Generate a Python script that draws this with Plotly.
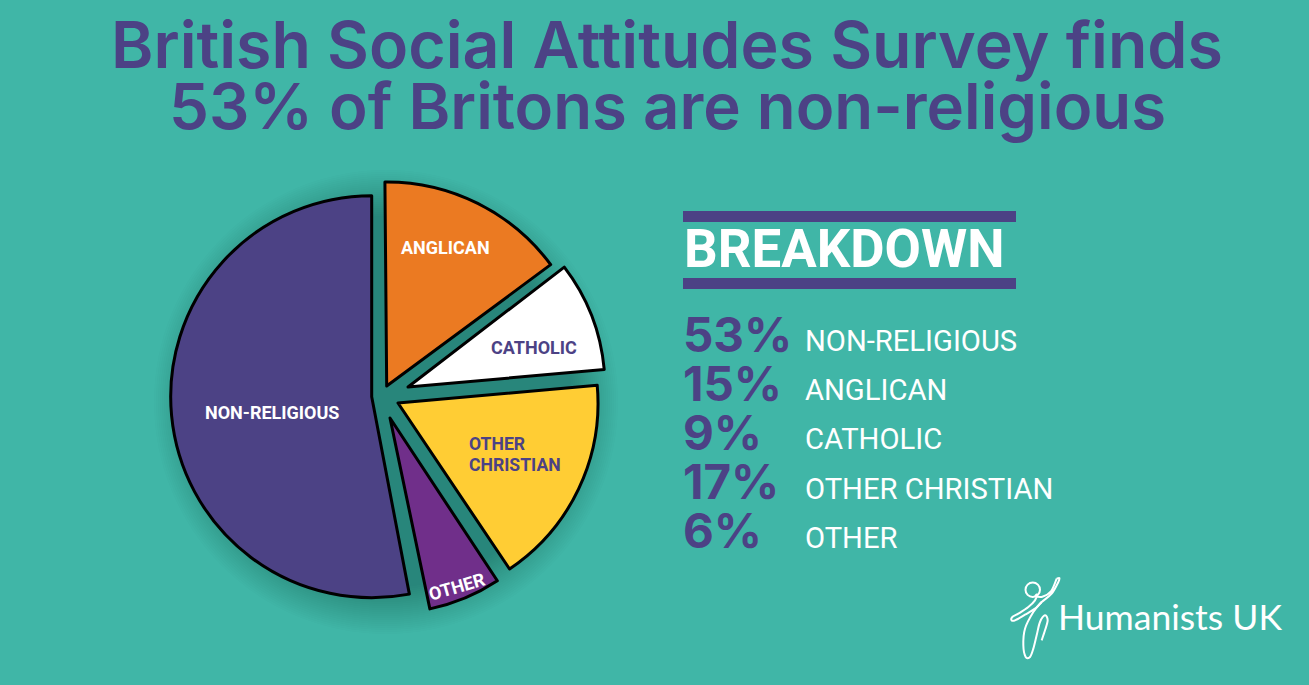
import plotly.graph_objects as go

# Survey shares, in the order the slices run clockwise from twelve o'clock
categories = ["ANGLICAN", "CATHOLIC", "OTHER CHRISTIAN", "OTHER", "NON-RELIGIOUS"]
shares = [15, 9, 17, 6, 53]
colors = ["#EB7A22", "#FFFFFF", "#FFCD34", "#702F8A", "#4C4285"]

# Breakdown list, top to bottom
list_names = ["NON-RELIGIOUS", "ANGLICAN", "CATHOLIC", "OTHER CHRISTIAN", "OTHER"]
list_shares = [53, 15, 9, 17, 6]

W, H = 1309, 685
BG = "#40B6A7"
PURPLE = "#4C4285"

# Each wedge has its own centre, radius and small turn so the pieces sit apart irregularly
wedge_geometry = {
    "ANGLICAN": (386.7, 386.0, 204, 0.0),
    "CATHOLIC": (408.0, 387.0, 197, -1.0),
    "OTHER CHRISTIAN": (398.0, 403.0, 200, -1.0),
    "OTHER": (390.0, 418.0, 195, -0.5),
    "NON-RELIGIOUS": (371.7, 396.7, 201, 0.5),
}
START_ANGLE = -0.5


def px(x):
    return x / W


def py(y):
    return 1 - y / H


fig = go.Figure()

total = sum(shares)
running = 0
for name, share, color in zip(categories, shares, colors):
    cx, cy, r, turn = wedge_geometry[name]
    fig.add_trace(go.Pie(
        labels=[name, "rest"],
        values=[share, total - share],
        sort=False,
        direction="clockwise",
        rotation=START_ANGLE + turn + running / total * 360,
        domain=dict(x=[px(cx - r), px(cx + r)], y=[py(cy + r), py(cy - r)]),
        marker=dict(colors=[color, "rgba(0,0,0,0)"],
                    line=dict(color=["#000000", "rgba(0,0,0,0)"], width=[3, 0])),
        textinfo="none",
        hoverinfo="label+percent",
        showlegend=False,
    ))
    running += share

shapes = []

# Soft shadow under the pie, built from stacked faint discs
for i in range(24):
    rad = 232 - i * 2
    shapes.append(dict(
        type="circle", xref="paper", yref="paper", layer="below",
        x0=px(386 - rad), x1=px(386 + rad), y0=py(402 + rad), y1=py(402 - rad),
        fillcolor="rgba(20,70,65,0.015)", line=dict(width=0),
    ))

# Rules above and below the BREAKDOWN heading
for y0, y1 in [(211, 222), (278, 289)]:
    shapes.append(dict(
        type="rect", xref="paper", yref="paper",
        x0=px(683), x1=px(1016), y0=py(y1), y1=py(y0),
        fillcolor=PURPLE, line=dict(width=0),
    ))


def smooth_path(points):
    """Catmull-Rom curve through the given pixel points, as an SVG path in paper coordinates."""
    pts = [points[0]] + points + [points[-1]]
    out = [f"M {px(points[0][0]):.5f},{py(points[0][1]):.5f}"]
    for i in range(1, len(pts) - 2):
        p0, p1, p2, p3 = pts[i - 1], pts[i], pts[i + 1], pts[i + 2]
        c1 = (p1[0] + (p2[0] - p0[0]) / 6, p1[1] + (p2[1] - p0[1]) / 6)
        c2 = (p2[0] - (p3[0] - p1[0]) / 6, p2[1] - (p3[1] - p1[1]) / 6)
        out.append(
            f"C {px(c1[0]):.5f},{py(c1[1]):.5f} {px(c2[0]):.5f},{py(c2[1]):.5f} "
            f"{px(p2[0]):.5f},{py(p2[1]):.5f}"
        )
    return " ".join(out)


# Logo figure: a ring for the head, a looping stroke for the arms, another for body and legs
logo_arms = [(155, 20), (138, 58), (112, 74), (92, 72), (96, 68), (90, 85), (70, 105), (40, 125),
             (22, 135), (20, 145), (30, 145), (60, 128), (90, 110), (110, 90), (140, 65),
             (160, 30), (163, 18), (155, 20)]
logo_body = [(110, 90), (85, 120), (60, 170), (55, 220), (62, 255), (75, 255), (85, 230), (95, 190),
             (105, 150), (120, 130), (128, 145), (120, 175), (110, 205)]
for stroke in (logo_arms, logo_body):
    pixels = [(1005 + x / 3, 572 + y / 3) for x, y in stroke]
    shapes.append(dict(
        type="path", xref="paper", yref="paper", path=smooth_path(pixels),
        line=dict(color="#FFFFFF", width=2),
    ))
shapes.append(dict(
    type="circle", xref="paper", yref="paper",
    x0=px(1025.5), x1=px(1040), y0=py(597), y1=py(582.5),
    line=dict(color="#FFFFFF", width=2),
))


def note(text, x, y, size, color, family="Roboto", weight=400, anchor="left", angle=0):
    return dict(
        text=text, x=px(x), y=py(y), xref="paper", yref="paper", showarrow=False,
        xanchor=anchor, yanchor="middle", textangle=angle,
        font=dict(family=family, size=size, color=color, weight=weight),
    )


annotations = [
    note("British Social Attitudes Survey finds", 667, 45, 64.4, PURPLE, "Inter", 600, "center"),
    note("53% of Britons are non-religious", 667, 105, 63.5, PURPLE, "Inter", 600, "center"),
    note("BREAKDOWN", 682, 249, 52.8, "#FFFFFF", "Roboto", 700),
    note("Humanists UK", 1056, 616, 35.5, "#FFFFFF", "Lato", 400),
    # Labels on the wedges
    note("ANGLICAN", 445, 247, 18, "#FFFFFF", "Roboto", 700, "center"),
    note("CATHOLIC", 534, 347, 18, PURPLE, "Roboto", 700, "center"),
    note("OTHER", 467, 444, 17.6, PURPLE, "Roboto", 700),
    note("CHRISTIAN", 467, 465, 17.6, PURPLE, "Roboto", 700),
    note("OTHER", 457, 586, 18, "#FFFFFF", "Roboto", 700, "center", -16),
    note("NON-RELIGIOUS", 272, 413, 18, "#FFFFFF", "Roboto", 700, "center"),
]

for i, (name, share) in enumerate(zip(list_names, list_shares)):
    y_big = 334 + i * 49.2
    annotations.append(note(f"{share}%", 681, y_big, 47.5, PURPLE, "Inter", 700))
    annotations.append(note(name, 802.5, y_big + 7, 29.2, "#FFFFFF", "Roboto", 400))

fig.update_layout(
    width=W, height=H, margin=dict(l=0, r=0, t=0, b=0),
    paper_bgcolor=BG, plot_bgcolor=BG,
    shapes=shapes, annotations=annotations,
)

fig.write_html("out.html", config=dict(displayModeBar=False))
